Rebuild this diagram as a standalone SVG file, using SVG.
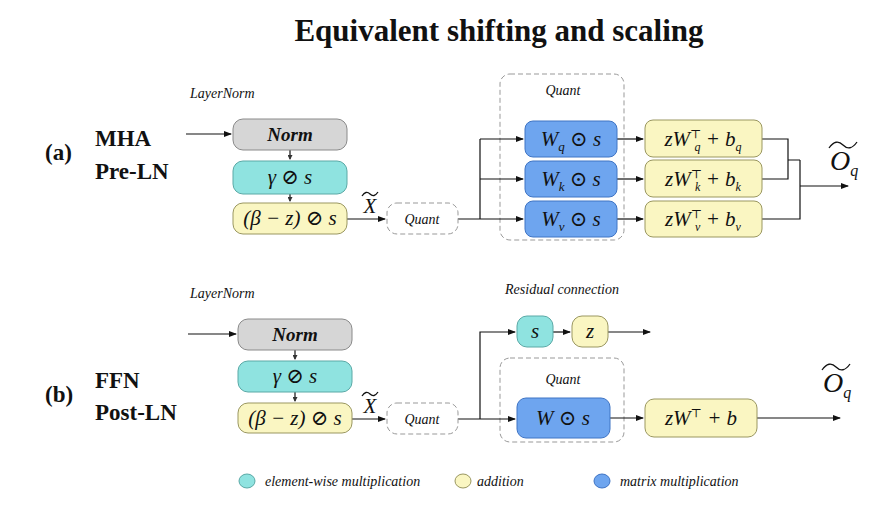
<svg xmlns="http://www.w3.org/2000/svg" width="871" height="512" viewBox="0 0 871 512">
<defs>
<marker id="ah" markerWidth="8" markerHeight="8" refX="7" refY="4" orient="auto" markerUnits="userSpaceOnUse"><path d="M0,1 L8,4 L0,7 Z" fill="#111"/></marker>
<marker id="sh" markerWidth="5" markerHeight="5" refX="4" refY="2.5" orient="auto" markerUnits="userSpaceOnUse"><path d="M0,0 L5,2.5 L0,5 Z" fill="#333"/></marker>
</defs>
<style>
text{font-family:"Liberation Serif","DejaVu Serif","Times New Roman",serif;fill:#111}
.t{font-size:31px;font-weight:bold}
.lab{font-size:23px;font-weight:bold}
.it{font-style:italic;font-size:14px}
.m{font-style:italic;font-size:21px}
.b{font-weight:bold;font-style:italic;font-size:19px}
.g{fill:#d6d6d6;stroke:#8a8a8a}
.c{fill:#8fe3e0;stroke:#5aa9a6}
.y{fill:#faf6c2;stroke:#9a9760}
.bl{fill:#6ea5ef;stroke:#3f74c4}
.d{fill:#fff;stroke:#999;stroke-dasharray:5,3}
.dn{fill:none;stroke:#999;stroke-dasharray:5,3}
.ln{fill:none;stroke:#111;stroke-width:1.2}
.tl{fill:none;stroke:#111;stroke-width:1.3}
</style>
<text class="t" x="499" y="41" text-anchor="middle">Equivalent shifting and scaling</text>
<text class="lab" x="45" y="160">(a)</text><text class="lab" x="95" y="146">MHA</text><text class="lab" x="95" y="179">Pre-LN</text>
<text class="lab" x="45" y="402">(b)</text><text class="lab" x="95" y="388">FFN</text><text class="lab" x="95" y="420">Post-LN</text>
<text class="it" x="190" y="98">LayerNorm</text>
<text class="it" x="190" y="298">LayerNorm</text>
<text class="it" x="563" y="95" text-anchor="middle">Quant</text>
<text class="it" x="562" y="294" text-anchor="middle">Residual connection</text>
<g id="dashA"><rect class="dn" x="500" y="74" width="124" height="166" rx="10"/></g>
<g id="dashB"><rect class="dn" x="500" y="358" width="124" height="84" rx="10"/></g>
<g id="connectors">
<path class="ln" d="M186,134 H231" marker-end="url(#ah)"/>
<path class="ln" d="M290,150 V159" marker-end="url(#sh)" stroke-width="0.8"/>
<path class="ln" d="M290,194 V201" marker-end="url(#sh)" stroke-width="0.8"/>
<path class="ln" d="M347,219 H385" marker-end="url(#ah)"/>
<path class="ln" d="M458,219 H480 M480,139 V219"/>
<path class="ln" d="M480,139 H523" marker-end="url(#ah)"/>
<path class="ln" d="M480,179 H523" marker-end="url(#ah)"/>
<path class="ln" d="M480,219 H523" marker-end="url(#ah)"/>
<path class="ln" d="M617,139 H643" marker-end="url(#ah)"/>
<path class="ln" d="M617,179 H643" marker-end="url(#ah)"/>
<path class="ln" d="M617,219 H643" marker-end="url(#ah)"/>
<path class="ln" d="M762,139 H788 V179 H762 M788,160 H800 M762,219 H800 V160"/>
<path class="ln" d="M800,186 H848" marker-end="url(#ah)"/>
<path class="ln" d="M188,334 H236" marker-end="url(#ah)"/>
<path class="ln" d="M295,350 V359" marker-end="url(#sh)" stroke-width="0.8"/>
<path class="ln" d="M295,392 V401" marker-end="url(#sh)" stroke-width="0.8"/>
<path class="ln" d="M352,419 H385" marker-end="url(#ah)"/>
<path class="ln" d="M458,419 H515" marker-end="url(#ah)"/>
<path class="ln" d="M480,419 V332 H515" marker-end="url(#ah)"/>
<path class="ln" d="M553,332 H570" marker-end="url(#ah)"/>
<path class="ln" d="M608,332 H650" marker-end="url(#ah)"/>
<path class="ln" d="M610,418 H643" marker-end="url(#ah)"/>
<path class="ln" d="M757,418 H840" marker-end="url(#ah)"/>
</g>
<g id="normA"><rect class="g" x="233" y="119" width="114" height="31" rx="10"/><text class="b" x="290" y="141" text-anchor="middle">Norm</text></g>
<g id="gammaA"><rect class="c" x="233" y="161" width="114" height="33" rx="10"/><text class="m" x="290" y="184" text-anchor="middle">γ ⊘ s</text></g>
<g id="betaA"><rect class="y" x="233" y="203" width="114" height="31" rx="10"/><text class="m" x="290" y="225" text-anchor="middle">(β − z) ⊘ s</text></g>
<g id="xA"><text class="m" x="370" y="213" text-anchor="middle">X</text><path class="tl" d="M362,196 Q366,190 370,194 T378,192"/></g>
<g id="quantA"><rect class="d" x="387" y="203" width="71" height="31" rx="10"/><text class="it" x="422" y="224" text-anchor="middle">Quant</text></g>
<g id="wq"><rect class="bl" x="525" y="121" width="92" height="36" rx="8"/><text class="m" x="571" y="146" text-anchor="middle">W<tspan font-size="13" dy="5">q</tspan><tspan dy="-5"> ⊙ s</tspan></text></g>
<g id="wk"><rect class="bl" x="525" y="161" width="92" height="36" rx="8"/><text class="m" x="571" y="186" text-anchor="middle">W<tspan font-size="13" dy="5">k</tspan><tspan dy="-5"> ⊙ s</tspan></text></g>
<g id="wv"><rect class="bl" x="525" y="201" width="92" height="36" rx="8"/><text class="m" x="571" y="226" text-anchor="middle">W<tspan font-size="13" dy="5">v</tspan><tspan dy="-5"> ⊙ s</tspan></text></g>
<g id="zq"><rect class="y" x="645" y="120" width="117" height="37" rx="8"/><text class="m" x="703" y="146" text-anchor="middle">zW<tspan font-size="12" font-style="normal" dy="-8">⊤</tspan><tspan font-size="12" dx="-7" dy="13">q</tspan><tspan dy="-5"> + b</tspan><tspan font-size="12" dy="5">q</tspan></text></g>
<g id="zk"><rect class="y" x="645" y="160" width="117" height="37" rx="8"/><text class="m" x="703" y="186" text-anchor="middle">zW<tspan font-size="12" font-style="normal" dy="-8">⊤</tspan><tspan font-size="12" dx="-7" dy="13">k</tspan><tspan dy="-5"> + b</tspan><tspan font-size="12" dy="5">k</tspan></text></g>
<g id="zv"><rect class="y" x="645" y="201" width="117" height="36" rx="8"/><text class="m" x="703" y="226" text-anchor="middle">zW<tspan font-size="12" font-style="normal" dy="-8">⊤</tspan><tspan font-size="12" dx="-7" dy="13">v</tspan><tspan dy="-5"> + b</tspan><tspan font-size="12" dy="5">v</tspan></text></g>
<g id="outA"><text x="830" y="170" font-size="28" font-style="italic">O<tspan font-size="16" dy="6">q</tspan></text><path class="tl" d="M829,148 Q836,138 843,145 T857,142"/></g>
<g id="normB"><rect class="g" x="238" y="319" width="114" height="31" rx="10"/><text class="b" x="295" y="341" text-anchor="middle">Norm</text></g>
<g id="gammaB"><rect class="c" x="238" y="361" width="114" height="31" rx="10"/><text class="m" x="295" y="383" text-anchor="middle">γ ⊘ s</text></g>
<g id="betaB"><rect class="y" x="238" y="403" width="114" height="30" rx="10"/><text class="m" x="295" y="425" text-anchor="middle">(β − z) ⊘ s</text></g>
<g id="xB"><text class="m" x="370" y="413" text-anchor="middle">X</text><path class="tl" d="M362,396 Q366,390 370,394 T378,392"/></g>
<g id="quantB"><rect class="d" x="387" y="403" width="71" height="31" rx="10"/><text class="it" x="422" y="424" text-anchor="middle">Quant</text></g>
<g id="sB"><rect class="c" x="517" y="316" width="36" height="31" rx="10"/><text class="m" x="535" y="338" text-anchor="middle">s</text></g>
<g id="zB"><rect class="y" x="572" y="316" width="36" height="31" rx="10"/><text class="m" x="590" y="338" text-anchor="middle">z</text></g>
<text class="it" x="563" y="384" text-anchor="middle">Quant</text>
<g id="wB"><rect class="bl" x="517" y="398" width="93" height="40" rx="9"/><text class="m" x="563" y="425" text-anchor="middle">W ⊙ s</text></g>
<g id="zwB"><rect class="y" x="645" y="399" width="112" height="38" rx="9"/><text class="m" x="701" y="425" text-anchor="middle">zW<tspan font-size="12" font-style="normal" dy="-8">⊤</tspan><tspan dy="8"> + b</tspan></text></g>
<g id="outB"><text x="823" y="392" font-size="28" font-style="italic">O<tspan font-size="16" dy="6">q</tspan></text><path class="tl" d="M822,370 Q829,360 836,367 T850,364"/></g>
<g id="legend">
<ellipse class="c" cx="247" cy="481" rx="8" ry="7"/><text class="it" x="265" y="486">element-wise multiplication</text>
<ellipse class="y" cx="463" cy="481" rx="8" ry="7"/><text class="it" x="477" y="486">addition</text>
<ellipse class="bl" cx="602" cy="481" rx="8" ry="7"/><text class="it" x="620" y="486">matrix multiplication</text>
</g>
</svg>
